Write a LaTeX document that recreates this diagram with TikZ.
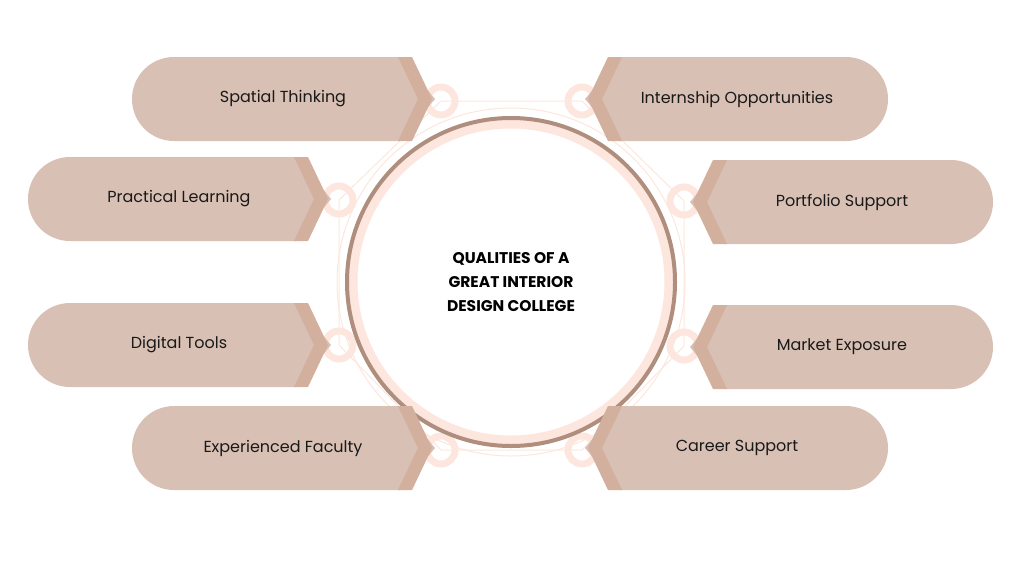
\documentclass[tikz,border=0pt]{standalone}
\usepackage{fontspec}
\setmainfont{Poppins}
\usetikzlibrary{positioning}
\definecolor{pillfill}{HTML}{D8C0B4}
\definecolor{pillshade}{HTML}{D3AF9E}
\definecolor{peach}{HTML}{FCE6DD}
\definecolor{ringbrown}{HTML}{B08E7E}
\tikzset{
	% the light pill body
	pill/.style={fill=pillfill},
	% the darker band near the tip
	shade/.style={fill=pillshade},
	% the small rings at the tips
	tipring/.style={draw=peach,line width=7pt},
	% thin lines between rings
	link/.style={draw=peach,line width=1pt},
	label/.style={font=\fontsize{16}{19}\selectfont,text=black!90},
}
% left pill: left x, top y, text, node name
\newcommand{\pillleft}[4]{
	\fill[pill] (#1+42,#2) -- (#1+268,#2) -- (#1+303,#2+42) -- (#1+268,#2+84) -- (#1+42,#2+84) arc (90:270:42) -- cycle;
	\fill[shade] (#1+266,#2) -- (#1+280,#2) -- (#1+300,#2+42) -- (#1+280,#2+84) -- (#1+266,#2+84) -- (#1+286,#2+42) -- cycle;
	\node[label] (#4) at (#1+151,#2+42) {#3};
}
% right pill: right x, top y, text, node name
\newcommand{\pillright}[4]{
	\fill[pill] (#1-42,#2) -- (#1-268,#2) -- (#1-303,#2+42) -- (#1-268,#2+84) -- (#1-42,#2+84) arc (90:-90:42) -- cycle;
	\fill[shade] (#1-266,#2) -- (#1-280,#2) -- (#1-300,#2+42) -- (#1-280,#2+84) -- (#1-266,#2+84) -- (#1-286,#2+42) -- cycle;
	\node[label] (#4) at (#1-151,#2+42) {#3};
}
\begin{document}
\begin{tikzpicture}[x=1pt,y=-1pt]
	\useasboundingbox (0,0) rectangle (1024,576);
	% ring centres
	\coordinate (r1) at (441,101);
	\coordinate (r2) at (339,200);
	\coordinate (r3) at (339,345);
	\coordinate (r4) at (441,450);
	\coordinate (r5) at (582,101);
	\coordinate (r6) at (684,201);
	\coordinate (r7) at (684,346);
	\coordinate (r8) at (582,450);
	\draw[link] (r1) -- (r5) -- (r6) -- (r7) -- (r8) -- (r4) -- (r3) -- (r2) -- cycle;
	\foreach \r in {r1,r2,r3,r4,r5,r6,r7,r8}
		\draw[tipring] (\r) circle (14);

	% centre circle
	\coordinate (hub) at (511,282);
	\draw[draw=peach,line width=1pt] (hub) circle (174);
	\fill[white] (hub) circle (166);
	\draw[draw=peach,line width=9pt] (hub) circle (158);
	\draw[draw=ringbrown,line width=4pt] (hub) circle (164);
	\node[align=center,font=\bfseries\fontsize{15.5}{24}\selectfont] (title) at (hub)
		{QUALITIES OF A\\GREAT INTERIOR\\DESIGN COLLEGE};

	% left side
	\pillleft{132}{57}{Spatial Thinking}{spatial}
	\pillleft{28}{157}{Practical Learning}{practical}
	\pillleft{28}{303}{Digital Tools}{digital}
	\pillleft{132}{406}{Experienced Faculty}{faculty}
	% right side
	\pillright{888}{57}{Internship Opportunities}{internship}
	\pillright{993}{160}{Portfolio Support}{portfolio}
	\pillright{993}{305}{Market Exposure}{market}
	\pillright{888}{406}{Career Support}{career}
\end{tikzpicture}
\end{document}
